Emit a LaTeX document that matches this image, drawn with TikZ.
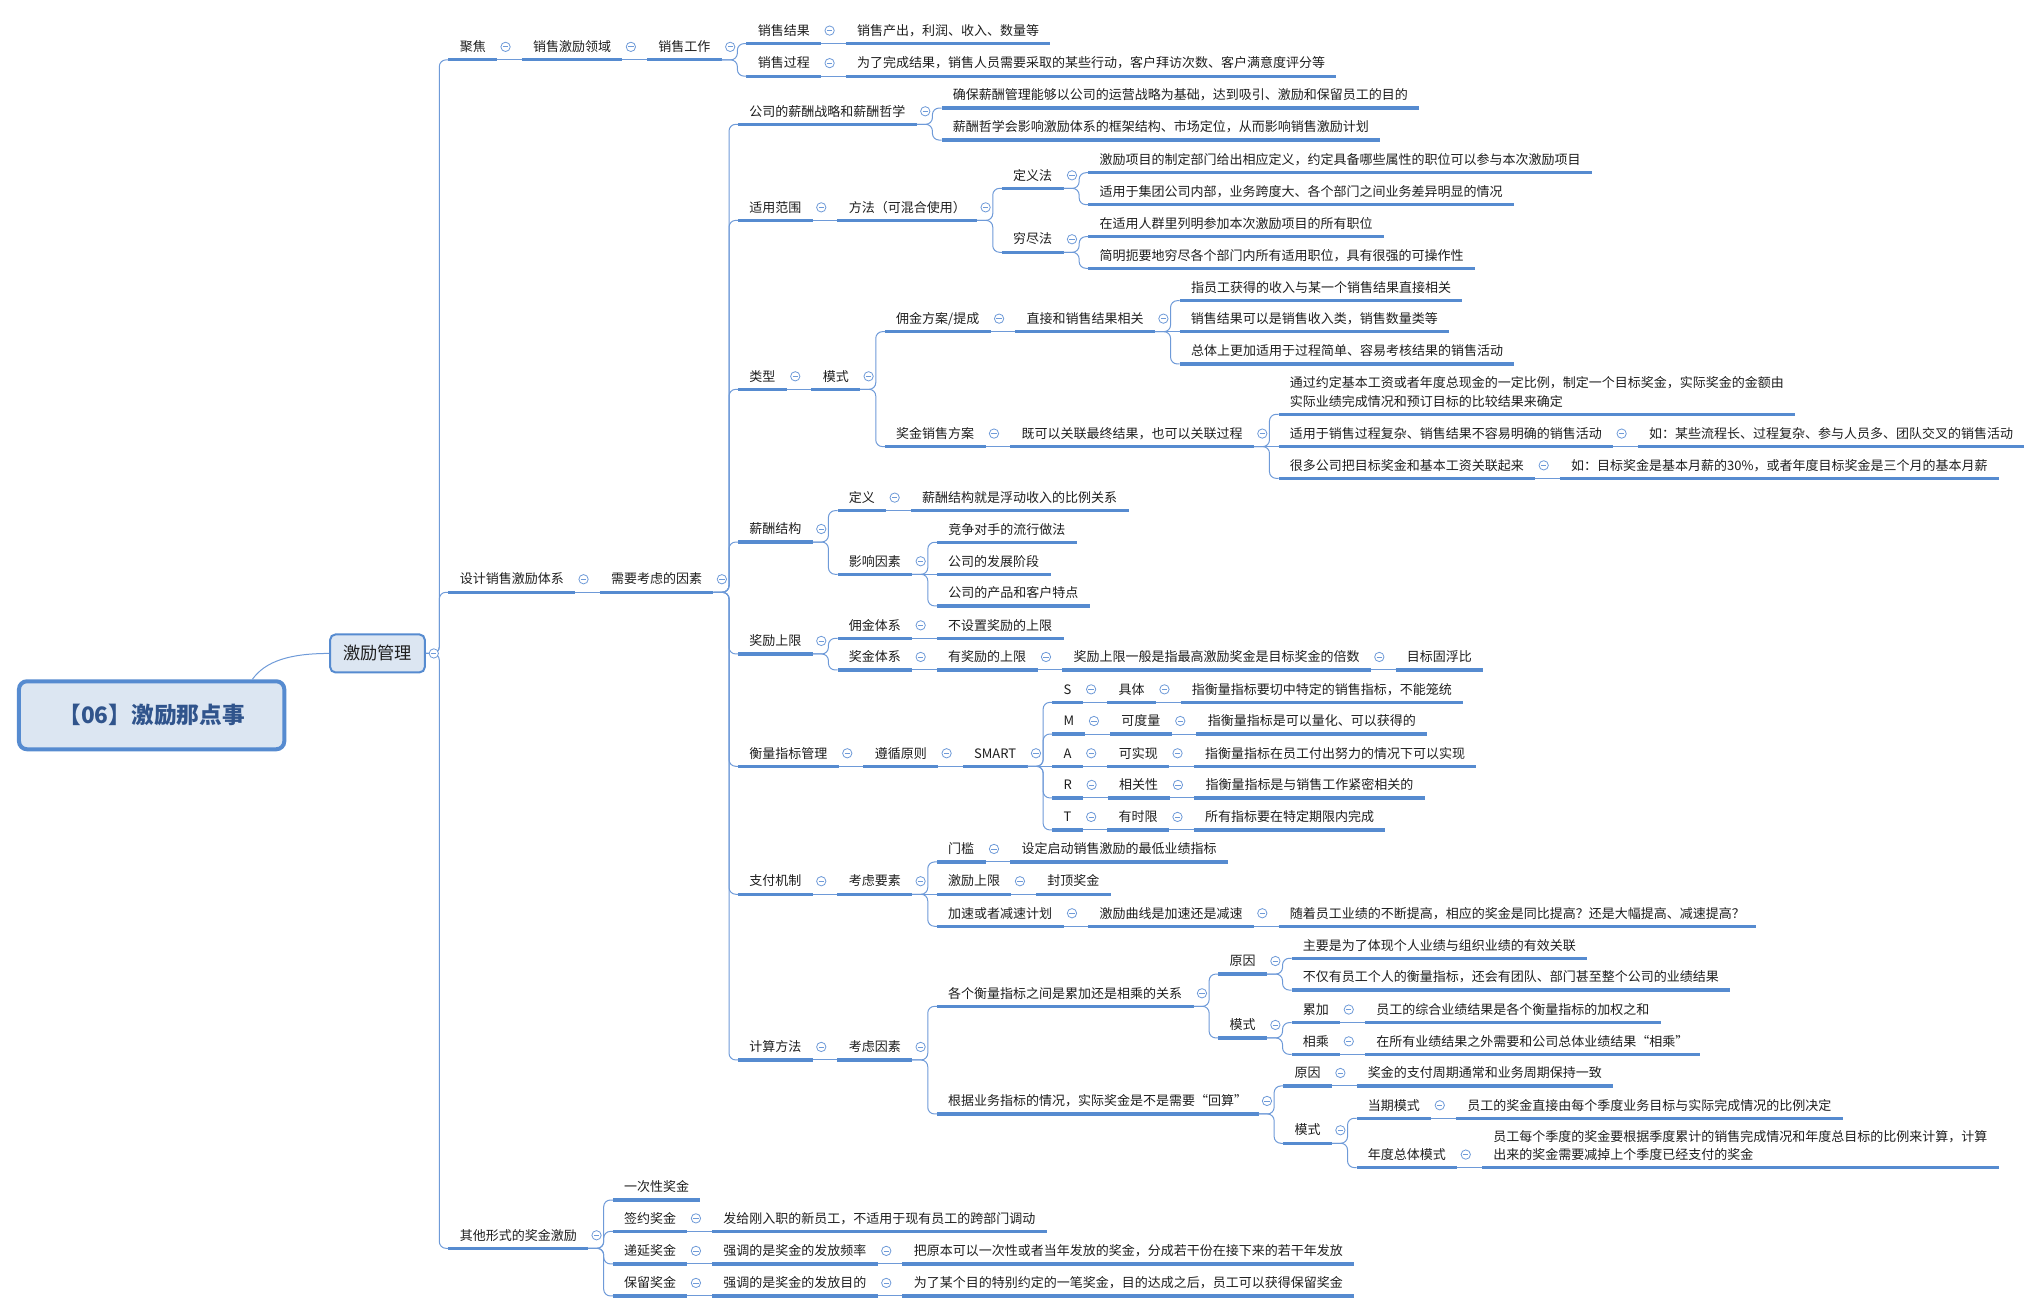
\documentclass[tikz,border=0pt]{standalone}
\usepackage{fontspec}
\setmainfont{Noto Sans CJK SC}
\usetikzlibrary{calc,positioning}
\definecolor{linkc}{RGB}{110,154,216}
\definecolor{ulinec}{RGB}{86,139,208}
\definecolor{boxfill}{RGB}{220,230,242}
\definecolor{rootc}{RGB}{48,84,140}
\definecolor{textc}{RGB}{30,30,30}
\tikzset{
  topic/.style={anchor=south west, inner xsep=8.3pt, inner ysep=4pt, text height=.8em, text depth=.2em,
    text=textc, font=\fontsize{9.75pt}{13.7pt}\selectfont,
    append after command={(\tikzlastnode.south west) edge[uline] (\tikzlastnode.south east)}},
  twoline/.style={topic, align=left},
  uline/.style={draw=ulinec, line width=2.4pt},
  branch/.style={draw=linkc, line width=.75pt, rounded corners=5pt,
    to path={-- ($(\tikztotarget |- \tikztostart)+(-7,0)$) |- (\tikztotarget)}},
  straight/.style={draw=linkc, line width=.75pt},
  foldmark/.style={circle, draw=linkc, fill=white, line width=.6pt, minimum size=7pt, inner sep=0pt,
    path picture={\draw[linkc, line width=.6pt] ([xshift=-2pt]path picture bounding box.center) -- ([xshift=2pt]path picture bounding box.center);}},
  rootbox/.style={draw=ulinec, line width=3pt, fill=boxfill, rounded corners=6pt, minimum width=199pt,
    minimum height=51pt, font=\fontsize{17pt}{20pt}\selectfont\bfseries, text=rootc},
  mainbox/.style={draw=ulinec, line width=1.5pt, fill=boxfill, rounded corners=4pt, minimum width=71pt,
    minimum height=28.5pt, font=\fontsize{12.9pt}{15pt}\selectfont, text=textc}
}
\begin{document}
\begin{tikzpicture}[x=0.9763pt, y=-0.9763pt]
%\draw[color=gray,step=10, help lines,opacity=0.3] (0,0) grid (1568,1009); %help grids
\useasboundingbox (0,0) rectangle (1568,1009);

% centre
\node[rootbox] (root) at (116.5,549.5) {【06】激励那点事};
\node[mainbox] (mgmt) at (290,502) {激励管理};
\draw[straight] ([xshift=-25.4pt]root.north east) .. controls +(10,-14) and +(-30,0) .. (mgmt.west);

% 聚焦
\node[topic] (focus) at (344.5,46) {聚焦};
\node[topic, right=18.5pt of focus] (area) {销售激励领域};
\node[topic, right=18.5pt of area] (work) {销售工作};
\node[topic] (res) at ($(work.south east)+(19,-12.5)$) {销售结果};
\node[topic, right=18.5pt of res] (resd) {销售产出，利润、收入、数量等};
\node[topic] (proc) at ($(work.south east)+(19,12.5)$) {销售过程};
\node[topic, right=18.5pt of proc] (procd) {为了完成结果，销售人员需要采取的某些行动，客户拜访次数、客户满意度评分等};

% 设计销售激励体系
\node[topic] (design) at (344.5,455) {设计销售激励体系};
\node[topic, right=18.5pt of design] (factor) {需要考虑的因素};
\node[topic] (strat) at ($(factor.south east)+(19,-359.5)$) {公司的薪酬战略和薪酬哲学};
\node[topic] (strat1) at ($(strat.south east)+(19,-12.5)$) {确保薪酬管理能够以公司的运营战略为基础，达到吸引、激励和保留员工的目的};
\node[topic] (strat2) at ($(strat.south east)+(19,12.1)$) {薪酬哲学会影响激励体系的框架结构、市场定位，从而影响销售激励计划};
\node[topic] (scope) at ($(factor.south east)+(19,-285.7)$) {适用范围};
\node[topic, right=18.5pt of scope] (method) {方法（可混合使用）};
\node[topic] (defm) at ($(method.south east)+(19,-24.6)$) {定义法};
\node[topic] (defm1) at ($(defm.south east)+(19,-12)$) {激励项目的制定部门给出相应定义，约定具备哪些属性的职位可以参与本次激励项目};
\node[topic] (defm2) at ($(defm.south east)+(19,12.5)$) {适用于集团公司内部，业务跨度大、各个部门之间业务差异明显的情况};
\node[topic] (exhm) at ($(method.south east)+(19,24.5)$) {穷尽法};
\node[topic] (exhm1) at ($(exhm.south east)+(19,-12)$) {在适用人群里列明参加本次激励项目的所有职位};
\node[topic] (exhm2) at ($(exhm.south east)+(19,12.3)$) {简明扼要地穷尽各个部门内所有适用职位，具有很强的可操作性};

\node[topic] (type) at ($(factor.south east)+(19,-155.9)$) {类型};
\node[topic, right=18.5pt of type] (mode) {模式};
\node[topic] (comm) at ($(mode.south east)+(19,-44.3)$) {佣金方案/提成};
\node[topic, right=18.5pt of comm] (direct) {直接和销售结果相关};
\node[topic] (direct1) at ($(direct.south east)+(19,-23.8)$) {指员工获得的收入与某一个销售结果直接相关};
\node[topic, right=18.5pt of direct] (direct2) {销售结果可以是销售收入类，销售数量类等};
\node[topic] (direct3) at ($(direct.south east)+(19,24.8)$) {总体上更加适用于过程简单、容易考核结果的销售活动};
\node[topic] (bonus) at ($(mode.south east)+(19,44)$) {奖金销售方案};
\node[topic, right=18.5pt of bonus] (mixed) {既可以关联最终结果，也可以关联过程};
\node[twoline] (mixed1) at ($(mixed.south east)+(19,-24.8)$) {通过约定基本工资或者年度总现金的一定比例，制定一个目标奖金，实际奖金的金额由\\实际业绩完成情况和预订目标的比较结果来确定};
\node[topic, right=18.5pt of mixed] (mixed2) {适用于销售过程复杂、销售结果不容易明确的销售活动};
\node[topic, right=18.5pt of mixed2] (mixed2x) {如：某些流程长、过程复杂、参与人员多、团队交叉的销售活动};
\node[topic] (mixed3) at ($(mixed.south east)+(19,24.4)$) {很多公司把目标奖金和基本工资关联起来};
\node[topic, right=18.5pt of mixed3] (mixed3x) {如：目标奖金是基本月薪的30\%，或者年度目标奖金是三个月的基本月薪};

\node[topic] (paystr) at ($(factor.south east)+(19,-38.6)$) {薪酬结构};
\node[topic] (psdef) at ($(paystr.south east)+(19,-24.1)$) {定义};
\node[topic, right=18.5pt of psdef] (psdef1) {薪酬结构就是浮动收入的比例关系};
\node[topic] (psinf) at ($(paystr.south east)+(19,24.8)$) {影响因素};
\node[topic] (psinf1) at ($(psinf.south east)+(19,-24.6)$) {竞争对手的流行做法};
\node[topic, right=18.5pt of psinf] (psinf2) {公司的发展阶段};
\node[topic] (psinf3) at ($(psinf.south east)+(19,24.3)$) {公司的产品和客户特点};

\node[topic] (cap) at ($(factor.south east)+(19,47.4)$) {奖励上限};
\node[topic] (capc) at ($(cap.south east)+(19,-12)$) {佣金体系};
\node[topic, right=18.5pt of capc] (capc1) {不设置奖励的上限};
\node[topic] (capb) at ($(cap.south east)+(19,12.3)$) {奖金体系};
\node[topic, right=18.5pt of capb] (capb1) {有奖励的上限};
\node[topic, right=18.5pt of capb1] (capb2) {奖励上限一般是指最高激励奖金是目标奖金的倍数};
\node[topic, right=18.5pt of capb2] (capb3) {目标固浮比};

\node[topic] (metric) at ($(factor.south east)+(19,133.7)$) {衡量指标管理};
\node[topic, right=18.5pt of metric] (rule) {遵循原则};
\node[topic, right=18.5pt of rule] (smart) {SMART};
\node[topic] (sS) at ($(smart.south east)+(19,-49.1)$) {S};
\node[topic, right=18.5pt of sS] (sS1) {具体};
\node[topic, right=18.5pt of sS1] (sS2) {指衡量指标要切中特定的销售指标，不能笼统};
\node[topic] (sM) at ($(smart.south east)+(19,-24.8)$) {M};
\node[topic, right=18.5pt of sM] (sM1) {可度量};
\node[topic, right=18.5pt of sM1] (sM2) {指衡量指标是可以量化、可以获得的};
\node[topic, right=18.5pt of smart] (sA) {A};
\node[topic, right=18.5pt of sA] (sA1) {可实现};
\node[topic, right=18.5pt of sA1] (sA2) {指衡量指标在员工付出努力的情况下可以实现};
\node[topic] (sR) at ($(smart.south east)+(19,24.3)$) {R};
\node[topic, right=18.5pt of sR] (sR1) {相关性};
\node[topic, right=18.5pt of sR1] (sR2) {指衡量指标是与销售工作紧密相关的};
\node[topic] (sT) at ($(smart.south east)+(19,48.9)$) {T};
\node[topic, right=18.5pt of sT] (sT1) {有时限};
\node[topic, right=18.5pt of sT1] (sT2) {所有指标要在特定期限内完成};

\node[topic] (pay) at ($(factor.south east)+(19,232)$) {支付机制};
\node[topic, right=18.5pt of pay] (payf) {考虑要素};
\node[topic] (thr) at ($(payf.south east)+(19,-24.8)$) {门槛};
\node[topic, right=18.5pt of thr] (thr1) {设定启动销售激励的最低业绩指标};
\node[topic, right=18.5pt of payf] (pcap) {激励上限};
\node[topic, right=18.5pt of pcap] (pcap1) {封顶奖金};
\node[topic] (acc) at ($(payf.south east)+(19,24.6)$) {加速或者减速计划};
\node[topic, right=18.5pt of acc] (acc1) {激励曲线是加速还是减速};
\node[topic, right=18.5pt of acc1] (acc2) {随着员工业绩的不断提高，相应的奖金是同比提高？还是大幅提高、减速提高？};

\node[topic] (calcm) at ($(factor.south east)+(19,359.3)$) {计算方法};
\node[topic, right=18.5pt of calcm] (calcf) {考虑因素};
\node[topic] (rel) at ($(calcf.south east)+(19,-41.2)$) {各个衡量指标之间是累加还是相乘的关系};
\node[topic] (relr) at ($(rel.south east)+(19,-24.8)$) {原因};
\node[topic] (relr1) at ($(relr.south east)+(19,-12.1)$) {主要是为了体现个人业绩与组织业绩的有效关联};
\node[topic] (relr2) at ($(relr.south east)+(19,12.3)$) {不仅有员工个人的衡量指标，还会有团队、部门甚至整个公司的业绩结果};
\node[topic] (relm) at ($(rel.south east)+(19,24.3)$) {模式};
\node[topic] (relm1) at ($(relm.south east)+(19,-11.8)$) {累加};
\node[topic, right=18.5pt of relm1] (relm1d) {员工的综合业绩结果是各个衡量指标的加权之和};
\node[topic] (relm2) at ($(relm.south east)+(19,12.6)$) {相乘};
\node[topic, right=18.5pt of relm2] (relm2d) {在所有业绩结果之外需要和公司总体业绩结果“相乘”};
\node[topic] (back) at ($(calcf.south east)+(19,41.5)$) {根据业务指标的情况，实际奖金是不是需要“回算”};
\node[topic] (backr) at ($(back.south east)+(19,-21.5)$) {原因};
\node[topic, right=18.5pt of backr] (backr1) {奖金的支付周期通常和业务周期保持一致};
\node[topic] (backm) at ($(back.south east)+(19,22.5)$) {模式};
\node[topic] (backm1) at ($(backm.south east)+(19,-19.2)$) {当期模式};
\node[topic, right=18.5pt of backm1] (backm1d) {员工的奖金直接由每个季度业务目标与实际完成情况的比例决定};
\node[topic] (backm2) at ($(backm.south east)+(19,18.7)$) {年度总体模式};
\node[twoline] (backm2d) at ($(backm2.south east)+(19,0)$) {员工每个季度的奖金要根据季度累计的销售完成情况和年度总目标的比例来计算，计算\\出来的奖金需要减掉上个季度已经支付的奖金};

% 其他形式的奖金激励
\node[topic] (other) at (344.5,959) {其他形式的奖金激励};
\node[topic] (once) at ($(other.south east)+(19,-37.1)$) {一次性奖金};
\node[topic] (sign) at ($(other.south east)+(19,-13)$) {签约奖金};
\node[topic, right=18.5pt of sign] (sign1) {发给刚入职的新员工，不适用于现有员工的跨部门调动};
\node[topic] (defer) at ($(other.south east)+(19,12)$) {递延奖金};
\node[topic, right=18.5pt of defer] (defer1) {强调的是奖金的发放频率};
\node[topic, right=18.5pt of defer1] (defer2) {把原本可以一次性或者当年发放的奖金，分成若干份在接下来的若干年发放};
\node[topic] (keep) at ($(other.south east)+(19,36.6)$) {保留奖金};
\node[topic, right=18.5pt of keep] (keep1) {强调的是奖金的发放目的};
\node[topic, right=18.5pt of keep1] (keep2) {为了某个目的特别约定的一笔奖金，目的达成之后，员工可以获得保留奖金};

% connectors
\foreach \c in {focus,design,other}
  \draw[branch] (mgmt.east) to (\c.south west);
\foreach \a/\b in {work/res,work/proc,factor/strat,factor/scope,factor/type,factor/paystr,factor/cap,
    factor/metric,factor/pay,factor/calcm,strat/strat1,strat/strat2,method/defm,method/exhm,defm/defm1,
    defm/defm2,exhm/exhm1,exhm/exhm2,mode/comm,mode/bonus,direct/direct1,direct/direct3,mixed/mixed1,
    mixed/mixed3,paystr/psdef,paystr/psinf,psinf/psinf1,psinf/psinf3,cap/capc,cap/capb,smart/sS,smart/sM,
    smart/sR,smart/sT,payf/thr,payf/acc,calcf/rel,calcf/back,rel/relr,rel/relm,relr/relr1,relr/relr2,
    relm/relm1,relm/relm2,back/backr,back/backm,backm/backm1,backm/backm2,other/once,other/sign,
    other/defer,other/keep}
  \draw[branch] (\a.south east) to (\b.south west);
\foreach \a/\b in {focus/area,area/work,res/resd,proc/procd,design/factor,scope/method,type/mode,
    comm/direct,direct/direct2,bonus/mixed,mixed/mixed2,mixed2/mixed2x,mixed3/mixed3x,psdef/psdef1,
    psinf/psinf2,capc/capc1,capb/capb1,capb1/capb2,capb2/capb3,metric/rule,rule/smart,smart/sA,sS/sS1,
    sS1/sS2,sM/sM1,sM1/sM2,sA/sA1,sA1/sA2,sR/sR1,sR1/sR2,sT/sT1,sT1/sT2,pay/payf,payf/pcap,thr/thr1,
    pcap/pcap1,acc/acc1,acc1/acc2,calcm/calcf,relm1/relm1d,relm2/relm2d,backr/backr1,backm1/backm1d,
    backm2/backm2d,sign/sign1,defer/defer1,defer1/defer2,keep/keep1,keep1/keep2}
  \draw[straight] (\a.south east) -- (\b.south west);

% collapse marks
\node[foldmark] at ([xshift=6pt]mgmt.east) {};
\foreach \n in {focus,area,work,res,proc,design,factor,strat,scope,method,defm,exhm,type,mode,comm,
    direct,bonus,mixed,mixed2,mixed3,paystr,psdef,psinf,cap,capc,capb,capb1,capb2,metric,rule,smart,
    sS,sS1,sM,sM1,sA,sA1,sR,sR1,sT,sT1,pay,payf,thr,pcap,acc,acc1,calcm,calcf,rel,relr,relm,relm1,
    relm2,back,backr,backm,backm1,backm2,other,sign,defer,defer1,keep,keep1}
  \node[foldmark] at ([shift={(6.5,-10)}]\n.south east) {};
\end{tikzpicture}
\end{document}
